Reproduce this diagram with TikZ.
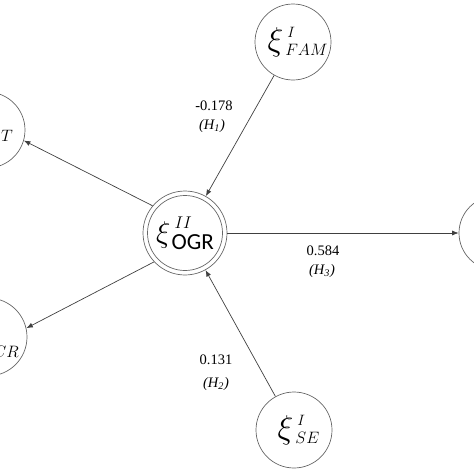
\RequirePackage{fix-cm}
\documentclass[tikz,border=0pt]{standalone}
\usepackage{fontspec}
\newfontfamily\carlito{Carlito}
\newfontfamily\lblfont{Liberation Serif}
\usetikzlibrary{arrows.meta}
\newcommand{\lvar}[2]{\kern9pt{\fontsize{33}{33}\selectfont$\xi$}\kern2pt\rlap{\kern2pt\raisebox{13.5pt}{\fontsize{15}{15}\selectfont$#1$}}\raisebox{-4.5pt}{\fontsize{16.5}{16.5}\selectfont$#2$}}
\newcommand{\cvar}{{\fontsize{30}{30}\selectfont$\xi$}\kern1pt\rlap{\kern3pt\raisebox{14pt}{\fontsize{17}{17}\selectfont$II$}}\raisebox{-7pt}{\carlito\fontsize{23}{23}\selectfont OGR}}
\newcommand{\hyp}[1]{{\itshape(H\textsubscript{#1})}}
\begin{document}
\begin{tikzpicture}[x=1pt,y=-1pt,
  circ/.style={circle, draw=black!60, line width=0.7pt, inner sep=0pt, minimum size=76pt},
  conn/.style={draw=black!75, line width=0.7pt, -{Latex[length=6.5pt,width=5pt]}},
  lbl/.style={font=\lblfont\fontsize{14.5}{16}\selectfont, inner sep=0pt},
  part/.style={font=\fontsize{16.5}{16.5}\selectfont, inner sep=0pt, anchor=east}]
\useasboundingbox (0,0) rectangle (474,474);
\node[circ, minimum size=84pt] (ogr) at (185,233) {\cvar};
\draw[draw=black!60, line width=0.7pt] (ogr.center) circle[radius=37.5pt];
\node[circ] (fam) at (293,42) {\lvar{I}{FAM}};
\node[circ] (se) at (294,430) {\lvar{I}{SE}};
\node[circ] (ict) at (-13,130) {};
\node[circ, minimum size=78pt] (cr) at (-12,337) {};
\node[circ, minimum size=74pt] (out) at (496,233) {};
\node[part] (ictt) at (13,136) {$T$};
\node[part] (crt) at (19,352) {$CR$};
\draw[conn] (ogr.140) -- (ict.-16);
\draw[conn] (ogr.223) -- (cr.13);
\draw[conn] (ogr.east) -- (out.west);
\draw[conn] (fam) -- (ogr);
\draw[conn] (se) -- (ogr);
\node[lbl] (l1a) at (214,106) {-0.178};
\node[lbl] (l1b) at (212,126) {\hyp{1}};
\node[lbl] (l2a) at (216,360) {0.131};
\node[lbl] (l2b) at (216,384) {\hyp{2}};
\node[lbl] (l3a) at (323,251) {0.584};
\node[lbl] (l3b) at (322,271) {\hyp{3}};
\end{tikzpicture}
\end{document}
